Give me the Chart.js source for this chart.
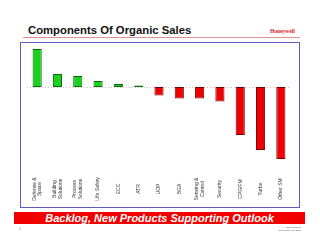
<!DOCTYPE html>
<html>
<head>
<meta charset="utf-8">
<script src="https://cdn.jsdelivr.net/npm/chart.js@4.4.0/dist/chart.umd.min.js"></script>
<style>
  body{margin:0;background:#fff;}
  #slide{position:relative;width:320px;height:247px;overflow:hidden;font-family:"Liberation Sans",Arial,sans-serif;}
  #titulo{position:absolute;left:28px;top:24px;font-size:11.3px;font-weight:bold;color:#111;white-space:nowrap;}
  #marca{position:absolute;left:270px;top:28px;font-size:5.5px;font-weight:bold;color:#d8201c;font-family:"Liberation Serif",serif;}
  #linea{position:absolute;left:23px;top:37px;width:277px;height:1px;background:#e89090;}
  #caja{position:absolute;left:20px;top:42px;width:278px;height:164px;border:1px solid #5c5cc0;}
  #grafico{position:absolute;left:0;top:0;}
  #banner{position:absolute;left:14px;top:212px;width:291px;height:12px;background:#f20000;color:#fff;font-size:11px;font-weight:bold;font-style:italic;text-align:center;line-height:12px;white-space:nowrap;}
  #pagina{position:absolute;left:19px;top:227px;font-size:3px;color:#888;}
  #pie{position:absolute;left:276px;top:226px;font-size:2.5px;color:#555;text-align:right;line-height:3px;width:25px;}
</style>
</head>
<body>
<div id="slide">
  <div id="titulo">Components Of Organic Sales</div>
  <div id="marca">Honeywell</div>
  <div id="linea"></div>
  <div id="caja"></div>
  <canvas id="grafico" width="320" height="247"></canvas>
  <div id="banner">Backlog, New Products Supporting Outlook</div>
  <div id="pagina">4</div>
  <div id="pie">2005 Outlook<br>December 13, 2005</div>
</div>
<script>
const categorias = ["Defense &|Space", "Building|Solutions", "Process|Solutions", "Life Safety", "ECC", "ATR", "UOP", "BGA", "Sensing &|Control", "Security", "CPG/FM", "Turbo", "Other SM"];
const valores = [3.8, 1.3, 1.1, 0.6, 0.3, 0.15, -0.85, -1.15, -1.15, -1.45, -4.8, -6.3, -7.2];

const verde = '#1ed01e';
const bordeVerde = '#0a6a0a';
const rojo = '#ee0000';
const bordeRojo = '#7a0000';

// etiquetas giradas y centradas bajo el area del grafico
const etiquetas = {
    id: 'etiquetas',
    beforeDatasetsDraw(chart){
        const c = chart.ctx;
        const y0 = chart.scales.y.getPixelForValue(0);
        c.save();
        c.strokeStyle = '#c4c4c4';
        c.lineWidth = 1;
        c.setLineDash([1, 2]);
        c.beginPath();
        c.moveTo(chart.chartArea.left, y0 + 0.5);
        c.lineTo(chart.chartArea.right, y0 + 0.5);
        c.stroke();
        c.restore();
    },
    afterDraw(chart){
        const c = chart.ctx;
        const xs = chart.scales.x;
        c.save();
        c.font = '5px "Liberation Sans", Arial, sans-serif';
        c.fillStyle = '#333';
        c.textAlign = 'center';
        c.textBaseline = 'middle';
        categorias.forEach((cat, i) => {
            const lineas = cat.split('|');
            const x = xs.getPixelForValue(i);
            const alto = 5.5;
            lineas.forEach((t, j) => {
                const dx = (j - (lineas.length - 1) / 2) * alto;
                c.save();
                c.translate(x + dx, 189);
                c.rotate(-Math.PI / 2);
                c.fillText(t, 0, 0);
                c.restore();
            });
        });
        c.restore();
    }
};

new Chart(document.getElementById('grafico'), {
    type: 'bar',
    data: {
        labels: categorias,
        datasets: [{
            data: valores,
            backgroundColor: valores.map(v => v >= 0 ? verde : rojo),
            borderColor: valores.map(v => v >= 0 ? bordeVerde : bordeRojo),
            borderWidth: 1,
            borderSkipped: false,
            barPercentage: 0.45,
            categoryPercentage: 1
        }]
    },
    options: {
        responsive: false,
        animation: false,
        layout: { padding: { left: 27, right: 29, top: 47, bottom: 85 } },
        plugins: { legend: { display: false }, tooltip: { enabled: false } },
        scales: {
            x: { display: false },
            y: { display: false, min: -7.5, max: 4.0 }
        }
    },
    plugins: [etiquetas]
});
</script>
</body>
</html>
